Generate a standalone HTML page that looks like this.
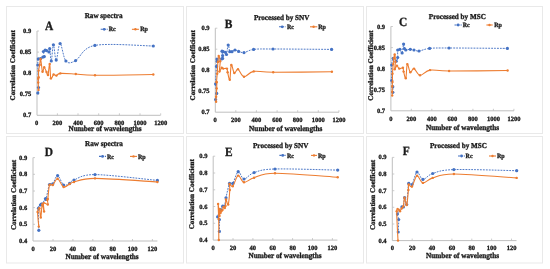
<!DOCTYPE html>
<html><head><meta charset="utf-8">
<style>
html,body{margin:0;padding:0;background:#fff;}
body{width:550px;height:269px;overflow:hidden;}
svg{display:block;will-change:transform;filter:blur(0.3px);}
text{font-family:"Liberation Serif", serif;font-weight:bold;fill:#1a1a1a;stroke:#1a1a1a;stroke-width:0.3px;text-rendering:geometricPrecision;}
.tk{font-size:6.5px;}
.ti{font-size:7.15px;}
.xt{font-size:7.25px;}
.lt{font-size:11.4px;}
.yt{font-size:7.1px;}
.lg{font-size:6px;}
</style></head><body>
<svg width="550" height="269" viewBox="0 0 550 269">
<rect width="550" height="269" fill="#fff"/>
<rect x="6.5" y="6.5" width="177.0" height="127.0" fill="none" stroke="#e9e9e9" stroke-width="1"/>
<path d="M37.0,31.0 V115.3 H160.5" fill="none" stroke="#bfbfbf" stroke-width="1"/>
<path d="M37.0,31.0 h2" stroke="#bfbfbf" stroke-width="0.8"/>
<text transform="translate(31.20,33.00) scale(1,1.000)" class="tk" text-anchor="end">0.9</text>
<path d="M37.0,52.1 h2" stroke="#bfbfbf" stroke-width="0.8"/>
<text transform="translate(31.20,54.08) scale(1,1.000)" class="tk" text-anchor="end">0.85</text>
<path d="M37.0,73.2 h2" stroke="#bfbfbf" stroke-width="0.8"/>
<text transform="translate(31.20,75.15) scale(1,1.000)" class="tk" text-anchor="end">0.8</text>
<path d="M37.0,94.2 h2" stroke="#bfbfbf" stroke-width="0.8"/>
<text transform="translate(31.20,96.22) scale(1,1.000)" class="tk" text-anchor="end">0.75</text>
<text transform="translate(31.20,117.30) scale(1,1.000)" class="tk" text-anchor="end">0.7</text>
<text transform="translate(36.70,124.60) scale(1,1.000)" class="tk" text-anchor="middle">0</text>
<path d="M57.4,115.3 v-2" stroke="#bfbfbf" stroke-width="0.8"/>
<text transform="translate(57.37,124.60) scale(1,1.000)" class="tk" text-anchor="middle">200</text>
<path d="M78.0,115.3 v-2" stroke="#bfbfbf" stroke-width="0.8"/>
<text transform="translate(78.03,124.60) scale(1,1.000)" class="tk" text-anchor="middle">400</text>
<path d="M98.7,115.3 v-2" stroke="#bfbfbf" stroke-width="0.8"/>
<text transform="translate(98.70,124.60) scale(1,1.000)" class="tk" text-anchor="middle">600</text>
<path d="M119.4,115.3 v-2" stroke="#bfbfbf" stroke-width="0.8"/>
<text transform="translate(119.37,124.60) scale(1,1.000)" class="tk" text-anchor="middle">800</text>
<path d="M140.0,115.3 v-2" stroke="#bfbfbf" stroke-width="0.8"/>
<text transform="translate(140.03,124.60) scale(1,1.000)" class="tk" text-anchor="middle">1000</text>
<path d="M160.7,115.3 v-2" stroke="#bfbfbf" stroke-width="0.8"/>
<text transform="translate(160.70,124.60) scale(1,1.000)" class="tk" text-anchor="middle">1200</text>
<text transform="translate(103.60,17.90) scale(1,1.050)" class="ti" text-anchor="middle">Raw spectra</text>
<text transform="translate(105.00,131.00) scale(1,1.050)" class="xt" text-anchor="middle">Number of wavelengths</text>
<text transform="translate(15.40,65.30) rotate(-90)" class="yt" text-anchor="middle">Correlation Coefficient</text>
<text transform="translate(45.00,30.40) scale(1,1.100)" class="lt">A</text>
<path d="M100.7,29.3 H107.7" stroke="#4472C4" stroke-width="1.1" stroke-dasharray="2.2,0.8"/>
<circle cx="104.2" cy="29.3" r="1.4" fill="#4472C4"/>
<text transform="translate(108.70,31.40) scale(1,1.080)" class="lg">Rc</text>
<path d="M131.9,29.3 H138.9" stroke="#ED7D31" stroke-width="1.1"/>
<circle cx="135.4" cy="29.3" r="1.2" fill="#ED7D31"/>
<text transform="translate(140.20,31.40) scale(1,1.080)" class="lg">Rp</text>
<path d="M153.30,46.00 C143.57,45.90 107.85,42.97 94.90,45.40 C81.95,47.83 80.43,58.00 75.60,60.60 C70.77,63.20 68.48,63.85 65.90,61.00 C63.32,58.15 61.72,43.65 60.10,43.50 C58.48,43.35 57.32,59.88 56.20,60.10 C55.08,60.32 54.22,44.65 53.40,44.80 C52.58,44.95 51.92,60.35 51.30,61.00 C50.68,61.65 50.10,50.20 49.70,48.70 C49.30,47.20 49.42,51.68 48.90,52.00 C48.38,52.32 47.22,50.92 46.60,50.60 C45.98,50.28 45.73,49.95 45.20,50.10 C44.67,50.25 43.55,50.42 43.40,51.50 C43.25,52.58 44.38,55.67 44.30,56.60 C44.22,57.53 43.52,56.78 42.90,57.10 C42.28,57.42 41.37,58.20 40.60,58.50 C39.83,58.80 38.77,57.82 38.30,58.90 C37.83,59.98 37.77,60.23 37.80,65.00 C37.83,69.77 38.50,82.83 38.50,87.50 C38.50,92.17 37.92,92.08 37.80,93.00" fill="none" stroke="#4472C4" stroke-width="0.95" stroke-dasharray="1.8,1.1" stroke-linejoin="round"/>
<circle cx="153.3" cy="46.0" r="1.6" fill="#4472C4"/>
<circle cx="94.9" cy="45.4" r="1.6" fill="#4472C4"/>
<circle cx="75.6" cy="60.6" r="1.6" fill="#4472C4"/>
<circle cx="65.9" cy="61.0" r="1.6" fill="#4472C4"/>
<circle cx="60.1" cy="43.5" r="1.6" fill="#4472C4"/>
<circle cx="56.2" cy="60.1" r="1.6" fill="#4472C4"/>
<circle cx="53.4" cy="44.8" r="1.6" fill="#4472C4"/>
<circle cx="51.3" cy="61.0" r="1.6" fill="#4472C4"/>
<circle cx="49.7" cy="48.7" r="1.6" fill="#4472C4"/>
<circle cx="48.9" cy="52.0" r="1.6" fill="#4472C4"/>
<circle cx="46.6" cy="50.6" r="1.6" fill="#4472C4"/>
<circle cx="45.2" cy="50.1" r="1.6" fill="#4472C4"/>
<circle cx="43.4" cy="51.5" r="1.6" fill="#4472C4"/>
<circle cx="44.3" cy="56.6" r="1.6" fill="#4472C4"/>
<circle cx="42.9" cy="57.1" r="1.6" fill="#4472C4"/>
<circle cx="40.6" cy="58.5" r="1.6" fill="#4472C4"/>
<circle cx="38.3" cy="58.9" r="1.6" fill="#4472C4"/>
<circle cx="37.8" cy="65.0" r="1.6" fill="#4472C4"/>
<circle cx="38.5" cy="87.5" r="1.6" fill="#4472C4"/>
<circle cx="37.8" cy="93.0" r="1.6" fill="#4472C4"/>
<path d="M153.30,74.50 C143.58,74.62 107.92,75.28 95.00,75.20 C82.08,75.12 81.58,74.30 75.80,74.00 C70.02,73.70 63.53,73.13 60.30,73.40 C57.07,73.67 57.52,75.42 56.40,75.60 C55.28,75.78 54.53,74.03 53.60,74.50 C52.67,74.97 51.45,80.17 50.80,78.40 C50.15,76.63 50.17,64.47 49.70,63.90 C49.23,63.33 48.53,73.65 48.00,75.00 C47.47,76.35 47.13,73.28 46.50,72.00 C45.87,70.72 44.87,67.35 44.20,67.30 C43.53,67.25 43.10,73.10 42.50,71.70 C41.90,70.30 41.07,60.02 40.60,58.90 C40.13,57.78 40.03,63.05 39.70,65.00 C39.37,66.95 38.78,68.55 38.60,70.60 C38.42,72.65 38.67,75.95 38.60,77.30 C38.53,78.65 38.27,77.85 38.20,78.70 C38.13,79.55 38.15,80.53 38.20,82.40 C38.25,84.27 38.45,88.65 38.50,89.90" fill="none" stroke="#ED7D31" stroke-width="1.1" stroke-linejoin="round"/>
<circle cx="153.3" cy="74.5" r="1.2" fill="#ED7D31"/>
<circle cx="95.0" cy="75.2" r="1.2" fill="#ED7D31"/>
<circle cx="75.8" cy="74.0" r="1.2" fill="#ED7D31"/>
<circle cx="60.3" cy="73.4" r="1.2" fill="#ED7D31"/>
<circle cx="56.4" cy="75.6" r="1.2" fill="#ED7D31"/>
<circle cx="53.6" cy="74.5" r="1.2" fill="#ED7D31"/>
<circle cx="50.8" cy="78.4" r="1.2" fill="#ED7D31"/>
<circle cx="49.7" cy="63.9" r="1.2" fill="#ED7D31"/>
<circle cx="48.0" cy="75.0" r="1.2" fill="#ED7D31"/>
<circle cx="46.5" cy="72.0" r="1.2" fill="#ED7D31"/>
<circle cx="44.2" cy="67.3" r="1.2" fill="#ED7D31"/>
<circle cx="42.5" cy="71.7" r="1.2" fill="#ED7D31"/>
<circle cx="40.6" cy="58.9" r="1.2" fill="#ED7D31"/>
<circle cx="39.7" cy="65.0" r="1.2" fill="#ED7D31"/>
<circle cx="38.6" cy="70.6" r="1.2" fill="#ED7D31"/>
<circle cx="38.6" cy="77.3" r="1.2" fill="#ED7D31"/>
<circle cx="38.2" cy="78.7" r="1.2" fill="#ED7D31"/>
<circle cx="38.2" cy="82.4" r="1.2" fill="#ED7D31"/>
<circle cx="38.5" cy="89.9" r="1.2" fill="#ED7D31"/>
<rect x="186.5" y="6.5" width="177.0" height="127.0" fill="none" stroke="#e9e9e9" stroke-width="1"/>
<path d="M215.3,28.2 V112.2 H339.0" fill="none" stroke="#bfbfbf" stroke-width="1"/>
<path d="M215.3,28.2 h2" stroke="#bfbfbf" stroke-width="0.8"/>
<text transform="translate(209.50,30.20) scale(1,1.000)" class="tk" text-anchor="end">0.9</text>
<path d="M215.3,49.2 h2" stroke="#bfbfbf" stroke-width="0.8"/>
<text transform="translate(209.50,51.20) scale(1,1.000)" class="tk" text-anchor="end">0.85</text>
<path d="M215.3,70.2 h2" stroke="#bfbfbf" stroke-width="0.8"/>
<text transform="translate(209.50,72.20) scale(1,1.000)" class="tk" text-anchor="end">0.8</text>
<path d="M215.3,91.2 h2" stroke="#bfbfbf" stroke-width="0.8"/>
<text transform="translate(209.50,93.20) scale(1,1.000)" class="tk" text-anchor="end">0.75</text>
<text transform="translate(209.50,114.20) scale(1,1.000)" class="tk" text-anchor="end">0.7</text>
<text transform="translate(215.20,121.80) scale(1,1.000)" class="tk" text-anchor="middle">0</text>
<path d="M235.8,112.2 v-2" stroke="#bfbfbf" stroke-width="0.8"/>
<text transform="translate(235.82,121.80) scale(1,1.000)" class="tk" text-anchor="middle">200</text>
<path d="M256.4,112.2 v-2" stroke="#bfbfbf" stroke-width="0.8"/>
<text transform="translate(256.43,121.80) scale(1,1.000)" class="tk" text-anchor="middle">400</text>
<path d="M277.1,112.2 v-2" stroke="#bfbfbf" stroke-width="0.8"/>
<text transform="translate(277.05,121.80) scale(1,1.000)" class="tk" text-anchor="middle">600</text>
<path d="M297.7,112.2 v-2" stroke="#bfbfbf" stroke-width="0.8"/>
<text transform="translate(297.67,121.80) scale(1,1.000)" class="tk" text-anchor="middle">800</text>
<path d="M318.3,112.2 v-2" stroke="#bfbfbf" stroke-width="0.8"/>
<text transform="translate(318.28,121.80) scale(1,1.000)" class="tk" text-anchor="middle">1000</text>
<path d="M338.9,112.2 v-2" stroke="#bfbfbf" stroke-width="0.8"/>
<text transform="translate(338.90,121.80) scale(1,1.000)" class="tk" text-anchor="middle">1200</text>
<text transform="translate(281.60,20.10) scale(1,1.050)" class="ti" text-anchor="middle">Processed by SNV</text>
<text transform="translate(285.70,130.60) scale(1,1.050)" class="xt" text-anchor="middle">Number of wavelengths</text>
<text transform="translate(195.10,65.30) rotate(-90)" class="yt" text-anchor="middle">Correlation Coefficient</text>
<text transform="translate(224.70,28.20) scale(1,1.100)" class="lt">B</text>
<path d="M279.0,26.8 H285.5" stroke="#4472C4" stroke-width="1.1" stroke-dasharray="2.2,0.8"/>
<circle cx="282.2" cy="26.8" r="1.4" fill="#4472C4"/>
<text transform="translate(286.90,28.90) scale(1,1.080)" class="lg">Rc</text>
<path d="M310.0,26.8 H317.3" stroke="#ED7D31" stroke-width="1.1"/>
<circle cx="313.6" cy="26.8" r="1.2" fill="#ED7D31"/>
<text transform="translate(318.20,28.90) scale(1,1.080)" class="lg">Rp</text>
<path d="M331.60,49.40 C321.83,49.33 286.00,49.00 273.00,49.00 C260.00,49.00 258.43,48.80 253.60,49.40 C248.77,50.00 246.50,52.27 244.00,52.60 C241.50,52.93 240.10,51.83 238.60,51.40 C237.10,50.97 236.10,49.95 235.00,50.00 C233.90,50.05 232.87,51.42 232.00,51.70 C231.13,51.98 230.43,52.82 229.80,51.70 C229.17,50.58 228.75,44.53 228.20,45.00 C227.65,45.47 226.97,53.28 226.50,54.50 C226.03,55.72 225.95,52.77 225.40,52.30 C224.85,51.83 223.77,51.88 223.20,51.70 C222.63,51.52 222.10,50.55 222.00,51.20 C221.90,51.85 222.50,54.40 222.60,55.60 C222.70,56.80 222.75,57.85 222.60,58.40 C222.45,58.95 222.63,58.80 221.70,58.90 C220.77,59.00 217.75,58.62 217.00,59.00 C216.25,59.38 217.28,59.97 217.20,61.20 C217.12,62.43 216.77,62.62 216.50,66.40 C216.23,70.18 215.57,79.40 215.60,83.90 C215.63,88.40 216.70,90.80 216.70,93.40 C216.70,96.00 215.78,98.48 215.60,99.50" fill="none" stroke="#4472C4" stroke-width="0.95" stroke-dasharray="1.8,1.1" stroke-linejoin="round"/>
<circle cx="331.6" cy="49.4" r="1.6" fill="#4472C4"/>
<circle cx="273.0" cy="49.0" r="1.6" fill="#4472C4"/>
<circle cx="253.6" cy="49.4" r="1.6" fill="#4472C4"/>
<circle cx="244.0" cy="52.6" r="1.6" fill="#4472C4"/>
<circle cx="238.6" cy="51.4" r="1.6" fill="#4472C4"/>
<circle cx="235.0" cy="50.0" r="1.6" fill="#4472C4"/>
<circle cx="232.0" cy="51.7" r="1.6" fill="#4472C4"/>
<circle cx="229.8" cy="51.7" r="1.6" fill="#4472C4"/>
<circle cx="228.2" cy="45.0" r="1.6" fill="#4472C4"/>
<circle cx="226.5" cy="54.5" r="1.6" fill="#4472C4"/>
<circle cx="225.4" cy="52.3" r="1.6" fill="#4472C4"/>
<circle cx="223.2" cy="51.7" r="1.6" fill="#4472C4"/>
<circle cx="222.0" cy="51.2" r="1.6" fill="#4472C4"/>
<circle cx="222.6" cy="55.6" r="1.6" fill="#4472C4"/>
<circle cx="222.6" cy="58.4" r="1.6" fill="#4472C4"/>
<circle cx="221.7" cy="58.9" r="1.6" fill="#4472C4"/>
<circle cx="217.0" cy="59.0" r="1.6" fill="#4472C4"/>
<circle cx="217.2" cy="61.2" r="1.6" fill="#4472C4"/>
<circle cx="216.5" cy="66.4" r="1.6" fill="#4472C4"/>
<circle cx="215.6" cy="83.9" r="1.6" fill="#4472C4"/>
<circle cx="216.7" cy="93.4" r="1.6" fill="#4472C4"/>
<circle cx="215.6" cy="99.5" r="1.6" fill="#4472C4"/>
<path d="M331.90,71.70 C322.12,71.80 286.23,72.35 273.20,72.30 C260.17,72.25 258.57,70.65 253.70,71.40 C248.83,72.15 246.62,77.15 244.00,76.80 C241.38,76.45 239.62,69.93 238.00,69.30 C236.38,68.67 235.42,73.73 234.30,73.00 C233.18,72.27 232.05,63.78 231.30,64.90 C230.55,66.02 230.42,78.47 229.80,79.70 C229.18,80.93 228.08,74.15 227.60,72.30 C227.12,70.45 227.63,69.22 226.90,68.60 C226.17,67.98 224.07,68.73 223.20,68.60 C222.33,68.47 222.33,67.30 221.70,67.80 C221.07,68.30 219.65,72.70 219.40,71.60 C219.15,70.50 220.32,63.80 220.20,61.20 C220.08,58.60 219.08,55.88 218.70,56.00 C218.32,56.12 218.15,58.93 217.90,61.90 C217.65,64.87 217.43,70.45 217.20,73.80 C216.97,77.15 216.58,80.60 216.50,82.00 C216.42,83.40 216.67,81.13 216.70,82.20 C216.73,83.27 216.80,85.98 216.70,88.40 C216.60,90.82 216.20,94.48 216.10,96.70 C216.00,98.92 216.10,100.87 216.10,101.70" fill="none" stroke="#ED7D31" stroke-width="1.1" stroke-linejoin="round"/>
<circle cx="331.9" cy="71.7" r="1.2" fill="#ED7D31"/>
<circle cx="273.2" cy="72.3" r="1.2" fill="#ED7D31"/>
<circle cx="253.7" cy="71.4" r="1.2" fill="#ED7D31"/>
<circle cx="244.0" cy="76.8" r="1.2" fill="#ED7D31"/>
<circle cx="238.0" cy="69.3" r="1.2" fill="#ED7D31"/>
<circle cx="234.3" cy="73.0" r="1.2" fill="#ED7D31"/>
<circle cx="231.3" cy="64.9" r="1.2" fill="#ED7D31"/>
<circle cx="229.8" cy="79.7" r="1.2" fill="#ED7D31"/>
<circle cx="227.6" cy="72.3" r="1.2" fill="#ED7D31"/>
<circle cx="226.9" cy="68.6" r="1.2" fill="#ED7D31"/>
<circle cx="223.2" cy="68.6" r="1.2" fill="#ED7D31"/>
<circle cx="221.7" cy="67.8" r="1.2" fill="#ED7D31"/>
<circle cx="219.4" cy="71.6" r="1.2" fill="#ED7D31"/>
<circle cx="220.2" cy="61.2" r="1.2" fill="#ED7D31"/>
<circle cx="218.7" cy="56.0" r="1.2" fill="#ED7D31"/>
<circle cx="217.9" cy="61.9" r="1.2" fill="#ED7D31"/>
<circle cx="217.2" cy="73.8" r="1.2" fill="#ED7D31"/>
<circle cx="216.5" cy="82.0" r="1.2" fill="#ED7D31"/>
<circle cx="216.7" cy="82.2" r="1.2" fill="#ED7D31"/>
<circle cx="216.7" cy="88.4" r="1.2" fill="#ED7D31"/>
<circle cx="216.1" cy="96.7" r="1.2" fill="#ED7D31"/>
<circle cx="216.1" cy="101.7" r="1.2" fill="#ED7D31"/>
<rect x="366.5" y="6.5" width="176.0" height="127.0" fill="none" stroke="#e9e9e9" stroke-width="1"/>
<path d="M390.9,26.5 V110.8 H514.0" fill="none" stroke="#bfbfbf" stroke-width="1"/>
<path d="M390.9,26.5 h2" stroke="#bfbfbf" stroke-width="0.8"/>
<text transform="translate(385.10,28.50) scale(1,1.000)" class="tk" text-anchor="end">0.9</text>
<path d="M390.9,47.6 h2" stroke="#bfbfbf" stroke-width="0.8"/>
<text transform="translate(385.10,49.58) scale(1,1.000)" class="tk" text-anchor="end">0.85</text>
<path d="M390.9,68.7 h2" stroke="#bfbfbf" stroke-width="0.8"/>
<text transform="translate(385.10,70.65) scale(1,1.000)" class="tk" text-anchor="end">0.8</text>
<path d="M390.9,89.7 h2" stroke="#bfbfbf" stroke-width="0.8"/>
<text transform="translate(385.10,91.72) scale(1,1.000)" class="tk" text-anchor="end">0.75</text>
<text transform="translate(385.10,112.80) scale(1,1.000)" class="tk" text-anchor="end">0.7</text>
<text transform="translate(390.80,120.90) scale(1,1.000)" class="tk" text-anchor="middle">0</text>
<path d="M411.3,110.8 v-2" stroke="#bfbfbf" stroke-width="0.8"/>
<text transform="translate(411.32,120.90) scale(1,1.000)" class="tk" text-anchor="middle">200</text>
<path d="M431.8,110.8 v-2" stroke="#bfbfbf" stroke-width="0.8"/>
<text transform="translate(431.83,120.90) scale(1,1.000)" class="tk" text-anchor="middle">400</text>
<path d="M452.4,110.8 v-2" stroke="#bfbfbf" stroke-width="0.8"/>
<text transform="translate(452.35,120.90) scale(1,1.000)" class="tk" text-anchor="middle">600</text>
<path d="M472.9,110.8 v-2" stroke="#bfbfbf" stroke-width="0.8"/>
<text transform="translate(472.87,120.90) scale(1,1.000)" class="tk" text-anchor="middle">800</text>
<path d="M493.4,110.8 v-2" stroke="#bfbfbf" stroke-width="0.8"/>
<text transform="translate(493.38,120.90) scale(1,1.000)" class="tk" text-anchor="middle">1000</text>
<path d="M513.9,110.8 v-2" stroke="#bfbfbf" stroke-width="0.8"/>
<text transform="translate(513.90,120.90) scale(1,1.000)" class="tk" text-anchor="middle">1200</text>
<text transform="translate(457.30,19.20) scale(1,1.050)" class="ti" text-anchor="middle">Processed by MSC</text>
<text transform="translate(462.50,130.00) scale(1,1.050)" class="xt" text-anchor="middle">Number of wavelengths</text>
<text transform="translate(372.80,65.60) rotate(-90)" class="yt" text-anchor="middle">Correlation Coefficient</text>
<text transform="translate(399.00,26.10) scale(1,1.100)" class="lt">C</text>
<path d="M454.5,25.0 H461.8" stroke="#4472C4" stroke-width="1.1" stroke-dasharray="2.2,0.8"/>
<circle cx="458.1" cy="25.0" r="1.4" fill="#4472C4"/>
<text transform="translate(462.70,27.10) scale(1,1.080)" class="lg">Rc</text>
<path d="M486.4,25.0 H492.7" stroke="#ED7D31" stroke-width="1.1"/>
<circle cx="489.5" cy="25.0" r="1.2" fill="#ED7D31"/>
<text transform="translate(494.20,27.10) scale(1,1.080)" class="lg">Rp</text>
<path d="M507.40,48.40 C497.67,48.33 461.97,48.00 449.00,48.00 C436.03,48.00 434.60,47.90 429.60,48.40 C424.60,48.90 421.60,50.73 419.00,51.00 C416.40,51.27 415.45,50.28 414.00,50.00 C412.55,49.72 411.67,49.30 410.30,49.30 C408.93,49.30 406.78,50.12 405.80,50.00 C404.82,49.88 404.77,49.58 404.40,48.60 C404.03,47.62 403.98,43.37 403.60,44.10 C403.22,44.83 402.72,52.13 402.10,53.00 C401.48,53.87 400.63,49.80 399.90,49.30 C399.17,48.80 398.07,48.63 397.70,50.00 C397.33,51.37 397.95,55.63 397.70,57.50 C397.45,59.37 396.95,61.07 396.20,61.20 C395.45,61.33 393.95,57.67 393.20,58.30 C392.45,58.93 391.95,61.28 391.70,65.00 C391.45,68.72 391.52,76.98 391.70,80.60 C391.88,84.22 392.62,84.75 392.80,86.70 C392.98,88.65 392.80,91.37 392.80,92.30" fill="none" stroke="#4472C4" stroke-width="0.95" stroke-dasharray="1.8,1.1" stroke-linejoin="round"/>
<circle cx="507.4" cy="48.4" r="1.6" fill="#4472C4"/>
<circle cx="449.0" cy="48.0" r="1.6" fill="#4472C4"/>
<circle cx="429.6" cy="48.4" r="1.6" fill="#4472C4"/>
<circle cx="419.0" cy="51.0" r="1.6" fill="#4472C4"/>
<circle cx="414.0" cy="50.0" r="1.6" fill="#4472C4"/>
<circle cx="410.3" cy="49.3" r="1.6" fill="#4472C4"/>
<circle cx="405.8" cy="50.0" r="1.6" fill="#4472C4"/>
<circle cx="404.4" cy="48.6" r="1.6" fill="#4472C4"/>
<circle cx="403.6" cy="44.1" r="1.6" fill="#4472C4"/>
<circle cx="402.1" cy="53.0" r="1.6" fill="#4472C4"/>
<circle cx="399.9" cy="49.3" r="1.6" fill="#4472C4"/>
<circle cx="397.7" cy="50.0" r="1.6" fill="#4472C4"/>
<circle cx="397.7" cy="57.5" r="1.6" fill="#4472C4"/>
<circle cx="396.2" cy="61.2" r="1.6" fill="#4472C4"/>
<circle cx="393.2" cy="58.3" r="1.6" fill="#4472C4"/>
<circle cx="391.7" cy="65.0" r="1.6" fill="#4472C4"/>
<circle cx="391.7" cy="80.6" r="1.6" fill="#4472C4"/>
<circle cx="392.8" cy="86.7" r="1.6" fill="#4472C4"/>
<circle cx="392.8" cy="92.3" r="1.6" fill="#4472C4"/>
<path d="M507.60,70.50 C497.85,70.58 462.03,71.07 449.10,71.00 C436.17,70.93 434.85,69.38 430.00,70.10 C425.15,70.82 422.67,75.55 420.00,75.30 C417.33,75.05 415.62,69.10 414.00,68.60 C412.38,68.10 411.42,73.05 410.30,72.30 C409.18,71.55 408.05,63.10 407.30,64.10 C406.55,65.10 406.42,77.05 405.80,78.30 C405.18,79.55 404.08,73.35 403.60,71.60 C403.12,69.85 403.63,68.30 402.90,67.80 C402.17,67.30 400.20,68.97 399.20,68.60 C398.20,68.23 397.65,65.48 396.90,65.60 C396.15,65.72 394.95,69.92 394.70,69.30 C394.45,68.68 395.40,64.37 395.40,61.90 C395.40,59.43 394.95,55.12 394.70,54.50 C394.45,53.88 394.15,56.60 393.90,58.20 C393.65,59.80 393.43,61.50 393.20,64.10 C392.97,66.70 392.62,70.82 392.50,73.80 C392.38,76.78 392.55,79.93 392.50,82.00 C392.45,84.07 392.25,84.58 392.20,86.20 C392.15,87.82 392.20,90.13 392.20,91.70 C392.20,93.27 392.20,94.95 392.20,95.60" fill="none" stroke="#ED7D31" stroke-width="1.1" stroke-linejoin="round"/>
<circle cx="507.6" cy="70.5" r="1.2" fill="#ED7D31"/>
<circle cx="449.1" cy="71.0" r="1.2" fill="#ED7D31"/>
<circle cx="430.0" cy="70.1" r="1.2" fill="#ED7D31"/>
<circle cx="420.0" cy="75.3" r="1.2" fill="#ED7D31"/>
<circle cx="414.0" cy="68.6" r="1.2" fill="#ED7D31"/>
<circle cx="410.3" cy="72.3" r="1.2" fill="#ED7D31"/>
<circle cx="407.3" cy="64.1" r="1.2" fill="#ED7D31"/>
<circle cx="405.8" cy="78.3" r="1.2" fill="#ED7D31"/>
<circle cx="403.6" cy="71.6" r="1.2" fill="#ED7D31"/>
<circle cx="402.9" cy="67.8" r="1.2" fill="#ED7D31"/>
<circle cx="399.2" cy="68.6" r="1.2" fill="#ED7D31"/>
<circle cx="396.9" cy="65.6" r="1.2" fill="#ED7D31"/>
<circle cx="394.7" cy="69.3" r="1.2" fill="#ED7D31"/>
<circle cx="395.4" cy="61.9" r="1.2" fill="#ED7D31"/>
<circle cx="394.7" cy="54.5" r="1.2" fill="#ED7D31"/>
<circle cx="393.9" cy="58.2" r="1.2" fill="#ED7D31"/>
<circle cx="393.2" cy="64.1" r="1.2" fill="#ED7D31"/>
<circle cx="392.5" cy="73.8" r="1.2" fill="#ED7D31"/>
<circle cx="392.5" cy="82.0" r="1.2" fill="#ED7D31"/>
<circle cx="392.2" cy="86.2" r="1.2" fill="#ED7D31"/>
<circle cx="392.2" cy="91.7" r="1.2" fill="#ED7D31"/>
<circle cx="392.2" cy="95.6" r="1.2" fill="#ED7D31"/>
<rect x="6.5" y="136.5" width="177.0" height="126.5" fill="none" stroke="#e9e9e9" stroke-width="1"/>
<path d="M33.0,157.6 V241.0 H157.4" fill="none" stroke="#bfbfbf" stroke-width="1"/>
<path d="M33.0,157.6 h2" stroke="#bfbfbf" stroke-width="0.8"/>
<text transform="translate(27.20,159.60) scale(1,1.000)" class="tk" text-anchor="end">0.9</text>
<path d="M33.0,174.3 h2" stroke="#bfbfbf" stroke-width="0.8"/>
<text transform="translate(27.20,176.28) scale(1,1.000)" class="tk" text-anchor="end">0.8</text>
<path d="M33.0,191.0 h2" stroke="#bfbfbf" stroke-width="0.8"/>
<text transform="translate(27.20,192.96) scale(1,1.000)" class="tk" text-anchor="end">0.7</text>
<path d="M33.0,207.6 h2" stroke="#bfbfbf" stroke-width="0.8"/>
<text transform="translate(27.20,209.64) scale(1,1.000)" class="tk" text-anchor="end">0.6</text>
<path d="M33.0,224.3 h2" stroke="#bfbfbf" stroke-width="0.8"/>
<text transform="translate(27.20,226.32) scale(1,1.000)" class="tk" text-anchor="end">0.5</text>
<text transform="translate(27.20,243.00) scale(1,1.000)" class="tk" text-anchor="end">0.4</text>
<text transform="translate(33.10,251.00) scale(1,1.000)" class="tk" text-anchor="middle">0</text>
<path d="M53.0,241.0 v-2" stroke="#bfbfbf" stroke-width="0.8"/>
<text transform="translate(52.98,251.00) scale(1,1.000)" class="tk" text-anchor="middle">20</text>
<path d="M72.9,241.0 v-2" stroke="#bfbfbf" stroke-width="0.8"/>
<text transform="translate(72.87,251.00) scale(1,1.000)" class="tk" text-anchor="middle">40</text>
<path d="M92.8,241.0 v-2" stroke="#bfbfbf" stroke-width="0.8"/>
<text transform="translate(92.75,251.00) scale(1,1.000)" class="tk" text-anchor="middle">60</text>
<path d="M112.6,241.0 v-2" stroke="#bfbfbf" stroke-width="0.8"/>
<text transform="translate(112.63,251.00) scale(1,1.000)" class="tk" text-anchor="middle">80</text>
<path d="M132.5,241.0 v-2" stroke="#bfbfbf" stroke-width="0.8"/>
<text transform="translate(132.52,251.00) scale(1,1.000)" class="tk" text-anchor="middle">100</text>
<path d="M152.4,241.0 v-2" stroke="#bfbfbf" stroke-width="0.8"/>
<text transform="translate(152.40,251.00) scale(1,1.000)" class="tk" text-anchor="middle">120</text>
<text transform="translate(104.00,146.40) scale(1,1.050)" class="ti" text-anchor="middle">Raw spectra</text>
<text transform="translate(102.10,259.20) scale(1,1.050)" class="xt" text-anchor="middle">Number of wavelengths</text>
<text transform="translate(16.00,195.00) rotate(-90)" class="yt" text-anchor="middle">Correlation Coefficient</text>
<text transform="translate(44.70,155.80) scale(1,1.100)" class="lt">D</text>
<path d="M99.0,156.4 H106.0" stroke="#4472C4" stroke-width="1.1" stroke-dasharray="2.2,0.8"/>
<circle cx="102.5" cy="156.4" r="1.4" fill="#4472C4"/>
<text transform="translate(107.00,158.50) scale(1,1.080)" class="lg">Rc</text>
<path d="M130.0,156.4 H137.0" stroke="#ED7D31" stroke-width="1.1"/>
<circle cx="133.5" cy="156.4" r="1.2" fill="#ED7D31"/>
<text transform="translate(138.00,158.50) scale(1,1.080)" class="lg">Rp</text>
<path d="M157.40,180.40 C147.00,179.43 108.90,174.67 95.00,174.60 C81.10,174.53 78.23,178.53 74.00,180.00 C69.77,181.47 71.33,182.57 69.60,183.40 C67.87,184.23 65.60,186.30 63.60,185.00 C61.60,183.70 59.40,175.78 57.60,175.60 C55.80,175.42 54.15,182.42 52.80,183.90 C51.45,185.38 50.63,181.92 49.50,184.50 C48.37,187.08 46.67,197.07 46.00,199.40 C45.33,201.73 46.13,197.73 45.50,198.50 C44.87,199.27 42.90,203.08 42.20,204.00 C41.50,204.92 41.60,203.83 41.30,204.00 C41.00,204.17 40.87,204.30 40.40,205.00 C39.93,205.70 38.77,203.98 38.50,208.20 C38.23,212.42 38.75,226.62 38.80,230.30" fill="none" stroke="#4472C4" stroke-width="0.95" stroke-dasharray="1.8,1.1" stroke-linejoin="round"/>
<circle cx="157.4" cy="180.4" r="1.6" fill="#4472C4"/>
<circle cx="95.0" cy="174.6" r="1.6" fill="#4472C4"/>
<circle cx="74.0" cy="180.0" r="1.6" fill="#4472C4"/>
<circle cx="69.6" cy="183.4" r="1.6" fill="#4472C4"/>
<circle cx="63.6" cy="185.0" r="1.6" fill="#4472C4"/>
<circle cx="57.6" cy="175.6" r="1.6" fill="#4472C4"/>
<circle cx="52.8" cy="183.9" r="1.6" fill="#4472C4"/>
<circle cx="49.5" cy="184.5" r="1.6" fill="#4472C4"/>
<circle cx="46.0" cy="199.4" r="1.6" fill="#4472C4"/>
<circle cx="45.5" cy="198.5" r="1.6" fill="#4472C4"/>
<circle cx="42.2" cy="204.0" r="1.6" fill="#4472C4"/>
<circle cx="41.3" cy="204.0" r="1.6" fill="#4472C4"/>
<circle cx="40.4" cy="205.0" r="1.6" fill="#4472C4"/>
<circle cx="38.5" cy="208.2" r="1.6" fill="#4472C4"/>
<circle cx="38.8" cy="230.3" r="1.6" fill="#4472C4"/>
<path d="M157.40,182.00 C147.00,181.40 108.90,178.40 95.00,178.40 C81.10,178.40 78.23,181.07 74.00,182.00 C69.77,182.93 71.33,183.17 69.60,184.00 C67.87,184.83 65.60,187.88 63.60,187.00 C61.60,186.12 59.40,179.03 57.60,178.70 C55.80,178.37 54.15,183.95 52.80,185.00 C51.45,186.05 50.33,182.67 49.50,185.00 C48.67,187.33 48.17,196.52 47.80,199.00 C47.43,201.48 47.30,198.98 47.30,199.90 C47.30,200.82 48.42,203.97 47.80,204.50 C47.18,205.03 44.22,201.93 43.60,203.10 C42.98,204.27 44.33,211.27 44.10,211.50 C43.87,211.73 42.75,203.50 42.20,204.50 C41.65,205.50 41.27,216.88 40.80,217.50 C40.33,218.12 39.93,209.13 39.40,208.20 C38.87,207.27 37.70,208.83 37.60,211.90 C37.50,214.97 38.60,224.15 38.80,226.60" fill="none" stroke="#ED7D31" stroke-width="1.1" stroke-linejoin="round"/>
<circle cx="157.4" cy="182.0" r="1.2" fill="#ED7D31"/>
<circle cx="95.0" cy="178.4" r="1.2" fill="#ED7D31"/>
<circle cx="74.0" cy="182.0" r="1.2" fill="#ED7D31"/>
<circle cx="69.6" cy="184.0" r="1.2" fill="#ED7D31"/>
<circle cx="63.6" cy="187.0" r="1.2" fill="#ED7D31"/>
<circle cx="57.6" cy="178.7" r="1.2" fill="#ED7D31"/>
<circle cx="52.8" cy="185.0" r="1.2" fill="#ED7D31"/>
<circle cx="49.5" cy="185.0" r="1.2" fill="#ED7D31"/>
<circle cx="47.8" cy="199.0" r="1.2" fill="#ED7D31"/>
<circle cx="47.3" cy="199.9" r="1.2" fill="#ED7D31"/>
<circle cx="47.8" cy="204.5" r="1.2" fill="#ED7D31"/>
<circle cx="43.6" cy="203.1" r="1.2" fill="#ED7D31"/>
<circle cx="44.1" cy="211.5" r="1.2" fill="#ED7D31"/>
<circle cx="42.2" cy="204.5" r="1.2" fill="#ED7D31"/>
<circle cx="40.8" cy="217.5" r="1.2" fill="#ED7D31"/>
<circle cx="39.4" cy="208.2" r="1.2" fill="#ED7D31"/>
<circle cx="37.6" cy="211.9" r="1.2" fill="#ED7D31"/>
<circle cx="38.8" cy="226.6" r="1.2" fill="#ED7D31"/>
<rect x="186.5" y="136.5" width="177.0" height="126.5" fill="none" stroke="#e9e9e9" stroke-width="1"/>
<path d="M213.2,156.2 V240.1 H337.4" fill="none" stroke="#bfbfbf" stroke-width="1"/>
<path d="M213.2,156.2 h2" stroke="#bfbfbf" stroke-width="0.8"/>
<text transform="translate(207.40,158.20) scale(1,1.000)" class="tk" text-anchor="end">0.9</text>
<path d="M213.2,173.0 h2" stroke="#bfbfbf" stroke-width="0.8"/>
<text transform="translate(207.40,174.98) scale(1,1.000)" class="tk" text-anchor="end">0.8</text>
<path d="M213.2,189.8 h2" stroke="#bfbfbf" stroke-width="0.8"/>
<text transform="translate(207.40,191.76) scale(1,1.000)" class="tk" text-anchor="end">0.7</text>
<path d="M213.2,206.5 h2" stroke="#bfbfbf" stroke-width="0.8"/>
<text transform="translate(207.40,208.54) scale(1,1.000)" class="tk" text-anchor="end">0.6</text>
<path d="M213.2,223.3 h2" stroke="#bfbfbf" stroke-width="0.8"/>
<text transform="translate(207.40,225.32) scale(1,1.000)" class="tk" text-anchor="end">0.5</text>
<text transform="translate(207.40,242.10) scale(1,1.000)" class="tk" text-anchor="end">0.4</text>
<text transform="translate(213.10,249.90) scale(1,1.000)" class="tk" text-anchor="middle">0</text>
<path d="M233.0,240.1 v-2" stroke="#bfbfbf" stroke-width="0.8"/>
<text transform="translate(232.98,249.90) scale(1,1.000)" class="tk" text-anchor="middle">20</text>
<path d="M252.9,240.1 v-2" stroke="#bfbfbf" stroke-width="0.8"/>
<text transform="translate(252.87,249.90) scale(1,1.000)" class="tk" text-anchor="middle">40</text>
<path d="M272.8,240.1 v-2" stroke="#bfbfbf" stroke-width="0.8"/>
<text transform="translate(272.75,249.90) scale(1,1.000)" class="tk" text-anchor="middle">60</text>
<path d="M292.6,240.1 v-2" stroke="#bfbfbf" stroke-width="0.8"/>
<text transform="translate(292.63,249.90) scale(1,1.000)" class="tk" text-anchor="middle">80</text>
<path d="M312.5,240.1 v-2" stroke="#bfbfbf" stroke-width="0.8"/>
<text transform="translate(312.52,249.90) scale(1,1.000)" class="tk" text-anchor="middle">100</text>
<path d="M332.4,240.1 v-2" stroke="#bfbfbf" stroke-width="0.8"/>
<text transform="translate(332.40,249.90) scale(1,1.000)" class="tk" text-anchor="middle">120</text>
<text transform="translate(280.70,148.40) scale(1,1.050)" class="ti" text-anchor="middle">Processed by SNV</text>
<text transform="translate(285.00,257.90) scale(1,1.050)" class="xt" text-anchor="middle">Number of wavelengths</text>
<text transform="translate(194.00,194.20) rotate(-90)" class="yt" text-anchor="middle">Correlation Coefficient</text>
<text transform="translate(225.00,155.80) scale(1,1.100)" class="lt">E</text>
<path d="M279.4,155.4 H286.0" stroke="#4472C4" stroke-width="1.1" stroke-dasharray="2.2,0.8"/>
<circle cx="282.7" cy="155.4" r="1.4" fill="#4472C4"/>
<text transform="translate(287.00,157.50) scale(1,1.080)" class="lg">Rc</text>
<path d="M311.0,155.4 H317.0" stroke="#ED7D31" stroke-width="1.1"/>
<circle cx="314.0" cy="155.4" r="1.2" fill="#ED7D31"/>
<text transform="translate(318.00,157.50) scale(1,1.080)" class="lg">Rp</text>
<path d="M337.70,170.10 C327.25,169.92 288.93,168.58 275.00,169.00 C261.07,169.42 259.27,170.93 254.10,172.60 C248.93,174.27 246.65,179.15 244.00,179.00 C241.35,178.85 240.07,170.97 238.20,171.70 C236.33,172.43 234.25,181.45 232.80,183.40 C231.35,185.35 230.63,181.00 229.50,183.40 C228.37,185.80 226.83,194.03 226.00,197.80 C225.17,201.57 225.05,204.60 224.50,206.00 C223.95,207.40 223.37,205.62 222.70,206.20 C222.03,206.78 221.35,207.73 220.50,209.50 C219.65,211.27 217.78,215.12 217.60,216.80 C217.42,218.48 219.10,217.17 219.40,219.60 C219.70,222.03 219.40,229.43 219.40,231.40" fill="none" stroke="#4472C4" stroke-width="0.95" stroke-dasharray="1.8,1.1" stroke-linejoin="round"/>
<circle cx="337.7" cy="170.1" r="1.6" fill="#4472C4"/>
<circle cx="275.0" cy="169.0" r="1.6" fill="#4472C4"/>
<circle cx="254.1" cy="172.6" r="1.6" fill="#4472C4"/>
<circle cx="244.0" cy="179.0" r="1.6" fill="#4472C4"/>
<circle cx="238.2" cy="171.7" r="1.6" fill="#4472C4"/>
<circle cx="232.8" cy="183.4" r="1.6" fill="#4472C4"/>
<circle cx="229.5" cy="183.4" r="1.6" fill="#4472C4"/>
<circle cx="226.0" cy="197.8" r="1.6" fill="#4472C4"/>
<circle cx="224.5" cy="206.0" r="1.6" fill="#4472C4"/>
<circle cx="222.7" cy="206.2" r="1.6" fill="#4472C4"/>
<circle cx="220.5" cy="209.5" r="1.6" fill="#4472C4"/>
<circle cx="217.6" cy="216.8" r="1.6" fill="#4472C4"/>
<circle cx="219.4" cy="219.6" r="1.6" fill="#4472C4"/>
<circle cx="219.4" cy="231.4" r="1.6" fill="#4472C4"/>
<path d="M337.70,177.20 C327.25,176.53 288.93,173.12 275.00,173.20 C261.07,173.28 259.27,176.18 254.10,177.70 C248.93,179.22 246.65,182.65 244.00,182.30 C241.35,181.95 240.07,174.95 238.20,175.60 C236.33,176.25 234.25,184.80 232.80,186.20 C231.35,187.60 230.00,183.37 229.50,184.00 C229.00,184.63 230.02,186.58 229.80,190.00 C229.58,193.42 228.83,202.92 228.20,204.50 C227.57,206.08 226.45,199.25 226.00,199.50 C225.55,199.75 225.70,204.58 225.50,206.00 C225.30,207.42 225.13,207.83 224.80,208.00 C224.47,208.17 223.88,206.67 223.50,207.00 C223.12,207.33 222.83,209.33 222.50,210.00 C222.17,210.67 221.83,210.50 221.50,211.00 C221.17,211.50 220.78,213.33 220.50,213.00 C220.22,212.67 219.97,208.50 219.80,209.00 C219.63,209.50 219.78,216.85 219.50,216.00 C219.22,215.15 218.23,203.40 218.10,203.90 C217.97,204.40 218.58,212.98 218.70,219.00 C218.82,225.02 218.78,236.50 218.80,240.00" fill="none" stroke="#ED7D31" stroke-width="1.1" stroke-linejoin="round"/>
<circle cx="337.7" cy="177.2" r="1.2" fill="#ED7D31"/>
<circle cx="275.0" cy="173.2" r="1.2" fill="#ED7D31"/>
<circle cx="254.1" cy="177.7" r="1.2" fill="#ED7D31"/>
<circle cx="244.0" cy="182.3" r="1.2" fill="#ED7D31"/>
<circle cx="238.2" cy="175.6" r="1.2" fill="#ED7D31"/>
<circle cx="232.8" cy="186.2" r="1.2" fill="#ED7D31"/>
<circle cx="229.5" cy="184.0" r="1.2" fill="#ED7D31"/>
<circle cx="229.8" cy="190.0" r="1.2" fill="#ED7D31"/>
<circle cx="228.2" cy="204.5" r="1.2" fill="#ED7D31"/>
<circle cx="226.0" cy="199.5" r="1.2" fill="#ED7D31"/>
<circle cx="225.5" cy="206.0" r="1.2" fill="#ED7D31"/>
<circle cx="224.8" cy="208.0" r="1.2" fill="#ED7D31"/>
<circle cx="223.5" cy="207.0" r="1.2" fill="#ED7D31"/>
<circle cx="222.5" cy="210.0" r="1.2" fill="#ED7D31"/>
<circle cx="221.5" cy="211.0" r="1.2" fill="#ED7D31"/>
<circle cx="220.5" cy="213.0" r="1.2" fill="#ED7D31"/>
<circle cx="219.8" cy="209.0" r="1.2" fill="#ED7D31"/>
<circle cx="219.5" cy="216.0" r="1.2" fill="#ED7D31"/>
<circle cx="218.1" cy="203.9" r="1.2" fill="#ED7D31"/>
<circle cx="218.7" cy="219.0" r="1.2" fill="#ED7D31"/>
<circle cx="218.8" cy="240.0" r="1.2" fill="#ED7D31"/>
<rect x="366.5" y="136.5" width="176.0" height="126.5" fill="none" stroke="#e9e9e9" stroke-width="1"/>
<path d="M392.3,157.4 V240.6 H516.5" fill="none" stroke="#bfbfbf" stroke-width="1"/>
<path d="M392.3,157.4 h2" stroke="#bfbfbf" stroke-width="0.8"/>
<text transform="translate(386.50,159.40) scale(1,1.000)" class="tk" text-anchor="end">0.9</text>
<path d="M392.3,174.0 h2" stroke="#bfbfbf" stroke-width="0.8"/>
<text transform="translate(386.50,176.04) scale(1,1.000)" class="tk" text-anchor="end">0.8</text>
<path d="M392.3,190.7 h2" stroke="#bfbfbf" stroke-width="0.8"/>
<text transform="translate(386.50,192.68) scale(1,1.000)" class="tk" text-anchor="end">0.7</text>
<path d="M392.3,207.3 h2" stroke="#bfbfbf" stroke-width="0.8"/>
<text transform="translate(386.50,209.32) scale(1,1.000)" class="tk" text-anchor="end">0.6</text>
<path d="M392.3,224.0 h2" stroke="#bfbfbf" stroke-width="0.8"/>
<text transform="translate(386.50,225.96) scale(1,1.000)" class="tk" text-anchor="end">0.5</text>
<text transform="translate(386.50,242.60) scale(1,1.000)" class="tk" text-anchor="end">0.4</text>
<text transform="translate(392.30,250.30) scale(1,1.000)" class="tk" text-anchor="middle">0</text>
<path d="M412.2,240.6 v-2" stroke="#bfbfbf" stroke-width="0.8"/>
<text transform="translate(412.17,250.30) scale(1,1.000)" class="tk" text-anchor="middle">20</text>
<path d="M432.0,240.6 v-2" stroke="#bfbfbf" stroke-width="0.8"/>
<text transform="translate(432.03,250.30) scale(1,1.000)" class="tk" text-anchor="middle">40</text>
<path d="M451.9,240.6 v-2" stroke="#bfbfbf" stroke-width="0.8"/>
<text transform="translate(451.90,250.30) scale(1,1.000)" class="tk" text-anchor="middle">60</text>
<path d="M471.8,240.6 v-2" stroke="#bfbfbf" stroke-width="0.8"/>
<text transform="translate(471.77,250.30) scale(1,1.000)" class="tk" text-anchor="middle">80</text>
<path d="M491.6,240.6 v-2" stroke="#bfbfbf" stroke-width="0.8"/>
<text transform="translate(491.63,250.30) scale(1,1.000)" class="tk" text-anchor="middle">100</text>
<path d="M511.5,240.6 v-2" stroke="#bfbfbf" stroke-width="0.8"/>
<text transform="translate(511.50,250.30) scale(1,1.000)" class="tk" text-anchor="middle">120</text>
<text transform="translate(458.50,148.40) scale(1,1.050)" class="ti" text-anchor="middle">Processed by MSC</text>
<text transform="translate(462.50,257.90) scale(1,1.050)" class="xt" text-anchor="middle">Number of wavelengths</text>
<text transform="translate(374.50,195.00) rotate(-90)" class="yt" text-anchor="middle">Correlation Coefficient</text>
<text transform="translate(402.70,155.20) scale(1,1.100)" class="lt">F</text>
<path d="M458.0,156.0 H465.0" stroke="#4472C4" stroke-width="1.1" stroke-dasharray="2.2,0.8"/>
<circle cx="461.5" cy="156.0" r="1.4" fill="#4472C4"/>
<text transform="translate(465.60,158.10) scale(1,1.080)" class="lg">Rc</text>
<path d="M489.0,156.0 H496.0" stroke="#ED7D31" stroke-width="1.1"/>
<circle cx="492.5" cy="156.0" r="1.2" fill="#ED7D31"/>
<text transform="translate(497.00,158.10) scale(1,1.080)" class="lg">Rp</text>
<path d="M516.70,170.70 C506.23,170.52 467.90,169.13 453.90,169.60 C439.90,170.07 437.87,171.87 432.70,173.50 C427.53,175.13 425.52,179.65 422.90,179.40 C420.28,179.15 418.82,171.15 417.00,172.00 C415.18,172.85 413.38,182.60 412.00,184.50 C410.62,186.40 409.58,180.07 408.70,183.40 C407.82,186.73 407.38,202.15 406.70,204.50 C406.02,206.85 405.15,197.08 404.60,197.50 C404.05,197.92 403.85,205.43 403.40,207.00 C402.95,208.57 402.90,205.73 401.90,206.90 C400.90,208.07 397.93,211.90 397.40,214.00 C396.87,216.10 398.57,216.50 398.70,219.50 C398.83,222.50 398.28,229.92 398.20,232.00" fill="none" stroke="#4472C4" stroke-width="0.95" stroke-dasharray="1.8,1.1" stroke-linejoin="round"/>
<circle cx="516.7" cy="170.7" r="1.6" fill="#4472C4"/>
<circle cx="453.9" cy="169.6" r="1.6" fill="#4472C4"/>
<circle cx="432.7" cy="173.5" r="1.6" fill="#4472C4"/>
<circle cx="422.9" cy="179.4" r="1.6" fill="#4472C4"/>
<circle cx="417.0" cy="172.0" r="1.6" fill="#4472C4"/>
<circle cx="412.0" cy="184.5" r="1.6" fill="#4472C4"/>
<circle cx="408.7" cy="183.4" r="1.6" fill="#4472C4"/>
<circle cx="406.7" cy="204.5" r="1.6" fill="#4472C4"/>
<circle cx="404.6" cy="197.5" r="1.6" fill="#4472C4"/>
<circle cx="403.4" cy="207.0" r="1.6" fill="#4472C4"/>
<circle cx="401.9" cy="206.9" r="1.6" fill="#4472C4"/>
<circle cx="397.4" cy="214.0" r="1.6" fill="#4472C4"/>
<circle cx="398.7" cy="219.5" r="1.6" fill="#4472C4"/>
<circle cx="398.2" cy="232.0" r="1.6" fill="#4472C4"/>
<path d="M516.70,177.90 C506.23,177.25 467.90,174.00 453.90,174.00 C439.90,174.00 437.87,176.42 432.70,177.90 C427.53,179.38 425.52,183.27 422.90,182.90 C420.28,182.53 418.82,175.08 417.00,175.70 C415.18,176.32 413.38,185.13 412.00,186.60 C410.62,188.07 409.30,183.93 408.70,184.50 C408.10,185.07 408.73,186.58 408.40,190.00 C408.07,193.42 407.35,203.70 406.70,205.00 C406.05,206.30 405.05,197.60 404.50,197.80 C403.95,198.00 403.87,204.43 403.40,206.20 C402.93,207.97 402.27,207.57 401.70,208.40 C401.13,209.23 400.55,211.02 400.00,211.20 C399.45,211.38 398.95,209.50 398.40,209.50 C397.85,209.50 396.77,206.02 396.70,211.20 C396.63,216.38 397.78,235.70 398.00,240.60" fill="none" stroke="#ED7D31" stroke-width="1.1" stroke-linejoin="round"/>
<circle cx="516.7" cy="177.9" r="1.2" fill="#ED7D31"/>
<circle cx="453.9" cy="174.0" r="1.2" fill="#ED7D31"/>
<circle cx="432.7" cy="177.9" r="1.2" fill="#ED7D31"/>
<circle cx="422.9" cy="182.9" r="1.2" fill="#ED7D31"/>
<circle cx="417.0" cy="175.7" r="1.2" fill="#ED7D31"/>
<circle cx="412.0" cy="186.6" r="1.2" fill="#ED7D31"/>
<circle cx="408.7" cy="184.5" r="1.2" fill="#ED7D31"/>
<circle cx="408.4" cy="190.0" r="1.2" fill="#ED7D31"/>
<circle cx="406.7" cy="205.0" r="1.2" fill="#ED7D31"/>
<circle cx="404.5" cy="197.8" r="1.2" fill="#ED7D31"/>
<circle cx="403.4" cy="206.2" r="1.2" fill="#ED7D31"/>
<circle cx="401.7" cy="208.4" r="1.2" fill="#ED7D31"/>
<circle cx="400.0" cy="211.2" r="1.2" fill="#ED7D31"/>
<circle cx="398.4" cy="209.5" r="1.2" fill="#ED7D31"/>
<circle cx="396.7" cy="211.2" r="1.2" fill="#ED7D31"/>
<circle cx="398.0" cy="240.6" r="1.2" fill="#ED7D31"/>
</svg>
</body></html>
